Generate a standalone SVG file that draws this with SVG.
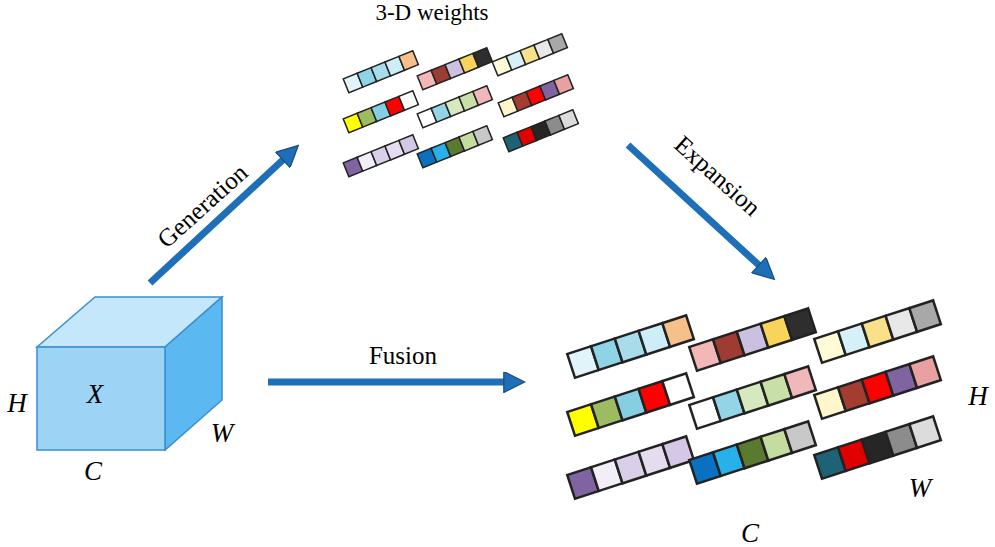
<svg xmlns="http://www.w3.org/2000/svg" xmlns:xlink="http://www.w3.org/1999/xlink" width="995" height="547" viewBox="0 0 995 547">
<style>
.t{font-family:"Liberation Serif",serif;fill:#000}
.i{font-style:italic;font-size:27px}
.c{stroke:#222;stroke-width:2.5}
.ar{stroke:#1f6fb8;stroke-width:7;fill:none}
</style>
<defs>
<marker id="ah" viewBox="0 0 10 10" refX="2" refY="5" markerWidth="3.4" markerHeight="3" orient="auto" markerUnits="strokeWidth"><path d="M0,0 L10,5 L0,10 z" fill="#1f6fb8" stroke="#174f82" stroke-width="0.6"/></marker>
<g id="A1"><rect class="c" x="0" y="0" width="25" height="25" fill="#e0f4fa"/><rect class="c" x="25" y="0" width="25" height="25" fill="#8fd3e6"/><rect class="c" x="50" y="0" width="25" height="25" fill="#a8dcea"/><rect class="c" x="75" y="0" width="25" height="25" fill="#cdeef7"/><rect class="c" x="100" y="0" width="25" height="25" fill="#f5c08a"/></g>
<g id="A2"><rect class="c" x="0" y="0" width="25" height="25" fill="#ffff00"/><rect class="c" x="25" y="0" width="25" height="25" fill="#9dbb61"/><rect class="c" x="50" y="0" width="25" height="25" fill="#86cfe3"/><rect class="c" x="75" y="0" width="25" height="25" fill="#ff0000"/><rect class="c" x="100" y="0" width="25" height="25" fill="#ffffff"/></g>
<g id="A3"><rect class="c" x="0" y="0" width="25" height="25" fill="#8064a2"/><rect class="c" x="25" y="0" width="25" height="25" fill="#f2eef8"/><rect class="c" x="50" y="0" width="25" height="25" fill="#d9cfe8"/><rect class="c" x="75" y="0" width="25" height="25" fill="#e5dcf0"/><rect class="c" x="100" y="0" width="25" height="25" fill="#d5c8e6"/></g>
<g id="B1"><rect class="c" x="0" y="0" width="25" height="25" fill="#f2b8b8"/><rect class="c" x="25" y="0" width="25" height="25" fill="#9e3b32"/><rect class="c" x="50" y="0" width="25" height="25" fill="#ccc0e0"/><rect class="c" x="75" y="0" width="25" height="25" fill="#f8d45a"/><rect class="c" x="100" y="0" width="25" height="25" fill="#2e2e2e"/></g>
<g id="B2"><rect class="c" x="0" y="0" width="25" height="25" fill="#ffffff"/><rect class="c" x="25" y="0" width="25" height="25" fill="#93d4e6"/><rect class="c" x="50" y="0" width="25" height="25" fill="#d6e8bd"/><rect class="c" x="75" y="0" width="25" height="25" fill="#c8e0a8"/><rect class="c" x="100" y="0" width="25" height="25" fill="#f0b8b8"/></g>
<g id="B3"><rect class="c" x="0" y="0" width="25" height="25" fill="#0a70c0"/><rect class="c" x="25" y="0" width="25" height="25" fill="#2ab0e8"/><rect class="c" x="50" y="0" width="25" height="25" fill="#5a7a30"/><rect class="c" x="75" y="0" width="25" height="25" fill="#c4dca0"/><rect class="c" x="100" y="0" width="25" height="25" fill="#c8c8c8"/></g>
<g id="C1"><rect class="c" x="0" y="0" width="25" height="25" fill="#fffbd6"/><rect class="c" x="25" y="0" width="25" height="25" fill="#d6f0f8"/><rect class="c" x="50" y="0" width="25" height="25" fill="#f9e08a"/><rect class="c" x="75" y="0" width="25" height="25" fill="#e8e8e8"/><rect class="c" x="100" y="0" width="25" height="25" fill="#a8a8a8"/></g>
<g id="C2"><rect class="c" x="0" y="0" width="25" height="25" fill="#fff6cc"/><rect class="c" x="25" y="0" width="25" height="25" fill="#a53c30"/><rect class="c" x="50" y="0" width="25" height="25" fill="#ff0000"/><rect class="c" x="75" y="0" width="25" height="25" fill="#8064a2"/><rect class="c" x="100" y="0" width="25" height="25" fill="#e8a0a0"/></g>
<g id="C3"><rect class="c" x="0" y="0" width="25" height="25" fill="#1f6276"/><rect class="c" x="25" y="0" width="25" height="25" fill="#e00000"/><rect class="c" x="50" y="0" width="25" height="25" fill="#262626"/><rect class="c" x="75" y="0" width="25" height="25" fill="#8c8c8c"/><rect class="c" x="100" y="0" width="25" height="25" fill="#dcdcdc"/></g>
</defs>

<g id="input-X">
<polygon points="37,347 95,297 222,297 165,347" fill="#c5e7fb" stroke="#3a8fd0" stroke-width="1.5"/>
<polygon points="165,347 222,297 222,400 165,450" fill="#5cb8f0" stroke="#3a8fd0" stroke-width="1.5"/>
<rect x="37" y="347" width="128" height="103" fill="#9dd3f5" stroke="#3a8fd0" stroke-width="1.5"/>
<text class="t i" x="95" y="403" text-anchor="middle">X</text>
<text class="t i" x="17" y="412" text-anchor="middle">H</text>
<text class="t i" x="222" y="442" text-anchor="middle">W</text>
<text class="t i" x="93" y="480" text-anchor="middle">C</text>
</g>

<g id="weights-3d">
<text class="t" x="432" y="20" font-size="23" text-anchor="middle">3-D weights</text>
<use xlink:href="#A1" transform="translate(353,83) rotate(-22) scale(0.6) translate(-12.5,-12.5)"/>
<use xlink:href="#A2" transform="translate(353,123) rotate(-22) scale(0.6) translate(-12.5,-12.5)"/>
<use xlink:href="#A3" transform="translate(353,167) rotate(-22) scale(0.6) translate(-12.5,-12.5)"/>
<use xlink:href="#B1" transform="translate(427,80) rotate(-22) scale(0.6) translate(-12.5,-12.5)"/>
<use xlink:href="#B2" transform="translate(427,118) rotate(-22) scale(0.6) translate(-12.5,-12.5)"/>
<use xlink:href="#B3" transform="translate(427,158) rotate(-22) scale(0.6) translate(-12.5,-12.5)"/>
<use xlink:href="#C1" transform="translate(502,66) rotate(-22) scale(0.6) translate(-12.5,-12.5)"/>
<use xlink:href="#C2" transform="translate(508,107) rotate(-22) scale(0.6) translate(-12.5,-12.5)"/>
<use xlink:href="#C3" transform="translate(513,142) rotate(-22) scale(0.6) translate(-12.5,-12.5)"/>
</g>

<g id="output-weights">
<use xlink:href="#A1" transform="translate(583,362) rotate(-18) translate(-12.5,-12.5)"/>
<use xlink:href="#A2" transform="translate(583,420) rotate(-18) translate(-12.5,-12.5)"/>
<use xlink:href="#A3" transform="translate(583,483) rotate(-18) translate(-12.5,-12.5)"/>
<use xlink:href="#B1" transform="translate(705,355) rotate(-18) translate(-12.5,-12.5)"/>
<use xlink:href="#B2" transform="translate(705,413) rotate(-18) translate(-12.5,-12.5)"/>
<use xlink:href="#B3" transform="translate(705,468) rotate(-18) translate(-12.5,-12.5)"/>
<use xlink:href="#C1" transform="translate(830,347) rotate(-18) translate(-12.5,-12.5)"/>
<use xlink:href="#C2" transform="translate(830,403) rotate(-18) translate(-12.5,-12.5)"/>
<use xlink:href="#C3" transform="translate(830,463) rotate(-18) translate(-12.5,-12.5)"/>
<text class="t i" x="978" y="405" text-anchor="middle">H</text>
<text class="t i" x="920" y="497" text-anchor="middle">W</text>
<text class="t i" x="750" y="542" text-anchor="middle">C</text>
</g>

<g id="connectors">
<line class="ar" x1="150" y1="283" x2="286" y2="157" marker-end="url(#ah)"/>
<line class="ar" x1="628" y1="145" x2="762" y2="268" marker-end="url(#ah)"/>
<line class="ar" x1="268" y1="382" x2="508" y2="382" marker-end="url(#ah)"/>
<text class="t" x="208" y="212" font-size="25" text-anchor="middle" transform="rotate(-42 208 212)">Generation</text>
<text class="t" x="712" y="182" font-size="25" text-anchor="middle" transform="rotate(42 712 182)">Expansion</text>
<text class="t" x="403" y="364" font-size="25" text-anchor="middle">Fusion</text>
</g>
</svg>
